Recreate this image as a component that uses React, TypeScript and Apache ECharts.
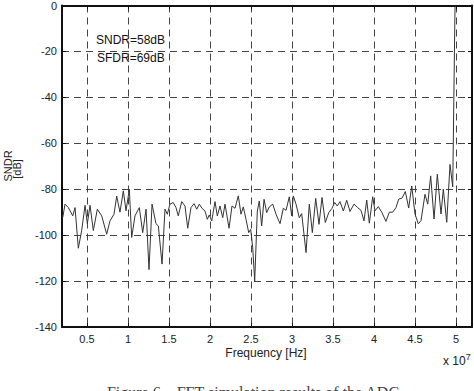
import React, { useEffect, useRef } from "react";
import * as echarts from "echarts";

// Frequency in units of 1e7 Hz, SNDR in dB
const freq: number[] = [
  0.204, 0.232, 0.272, 0.326, 0.354, 0.394, 0.435, 0.476, 0.504, 0.537,
  0.577, 0.626, 0.679, 0.74, 0.78, 0.829, 0.862, 0.902, 0.943, 0.976,
  1.016, 1.045, 1.085, 1.138, 1.179, 1.22, 1.256, 1.293, 1.341, 1.37,
  1.415, 1.451, 1.479, 1.512, 1.552, 1.585, 1.613, 1.655, 1.695, 1.728,
  1.768, 1.805, 1.838, 1.87, 1.902, 1.939, 1.967, 1.991, 2.021, 2.061,
  2.089, 2.122, 2.155, 2.183, 2.232, 2.268, 2.305, 2.345, 2.378, 2.406,
  2.439, 2.472, 2.496, 2.521, 2.545, 2.577, 2.601, 2.63, 2.659, 2.691,
  2.723, 2.765, 2.805, 2.854, 2.894, 2.927, 2.967, 2.996, 3.016, 3.049,
  3.089, 3.118, 3.171, 3.211, 3.248, 3.289, 3.329, 3.366, 3.406, 3.448,
  3.488, 3.521, 3.552, 3.585, 3.626, 3.667, 3.707, 3.756, 3.801, 3.841,
  3.878, 3.911, 3.943, 3.984, 4.012, 4.052, 4.094, 4.146, 4.187, 4.228,
  4.268, 4.301, 4.341, 4.382, 4.423, 4.46, 4.5, 4.54, 4.573, 4.622,
  4.655, 4.691, 4.732, 4.772, 4.817, 4.845, 4.887, 4.927, 4.96, 4.988,
];

const sndr: number[] = [
  -92.3, -86.5, -88, -91.6, -88, -105.7, -98, -87, -95, -87,
  -98, -88.7, -91.6, -99.6, -93.8, -90.9, -83, -90, -80.7, -89.4,
  -80, -101, -91.6, -88, -98.9, -88.7, -115, -86.5, -95, -96,
  -112.6, -88.7, -90.9, -86.5, -85.8, -88, -91.6, -85.4, -87.3, -97,
  -88, -86.3, -88.7, -86.5, -88.3, -89.5, -93.1, -91.2, -93.8, -85.4,
  -91.6, -87.3, -92.4, -86.5, -97, -87.3, -88.3, -82.9, -90.9, -87.7,
  -93.1, -98.9, -97.5, -105.5, -120, -89.5, -85.1, -96, -84.4, -90.2,
  -87.7, -86.5, -90.9, -95, -88.3, -89.2, -83.3, -91.6, -82.9, -86.5,
  -92.4, -90.6, -107.6, -86.5, -98.9, -84, -95.3, -83.6, -94.5, -90.2,
  -88.3, -85.8, -87.3, -85.4, -89.5, -84.8, -89.7, -86.5, -88, -89.2,
  -93.8, -84.7, -94.8, -83.3, -89.4, -87.6, -90, -94, -90, -90,
  -88, -84.3, -83.9, -81, -88.2, -78.6, -90.8, -95.1, -93.7, -82.2,
  -86.5, -74.2, -93, -73.5, -90.8, -80, -94.4, -69.2, -79, 0,
];

const xTicks: number[] = [0.5, 1, 1.5, 2, 2.5, 3, 3.5, 4, 4.5, 5];

const FONT = "'Liberation Sans', Arial, sans-serif";

export default function App() {
  const ref = useRef<HTMLDivElement>(null);

  useEffect(() => {
    if (!ref.current) return;
    const chart = echarts.init(ref.current, null, { renderer: "svg" });
    const dash = { color: "#444", width: 1, type: [7, 5] as number[] };
    const xCommon = {
      type: "value" as const,
      min: 0.195,
      max: 5.195,
      axisLine: { show: true, onZero: false, lineStyle: { color: "#111", width: 2 } },
      axisTick: {
        show: true,
        inside: true,
        length: 4,
        customValues: xTicks,
        lineStyle: { color: "#111", width: 1 },
      },
    };
    const yCommon = {
      type: "value" as const,
      min: -140,
      max: 0,
      interval: 20,
      axisLine: { show: true, onZero: false, lineStyle: { color: "#111", width: 2 } },
      axisTick: { show: true, inside: true, length: 4, lineStyle: { color: "#111", width: 1 } },
    };
    chart.setOption({
      animation: false,
      grid: { left: 62, right: 2, top: 4, bottom: 64 },
      xAxis: [
        {
          ...xCommon,
          position: "bottom",
          axisLabel: {
            show: true,
            customValues: xTicks,
            color: "#222",
            fontSize: 11,
            fontFamily: FONT,
            margin: 6,
          },
          splitLine: { show: true, lineStyle: dash },
        },
        {
          ...xCommon,
          position: "top",
          axisLabel: { show: false },
          splitLine: { show: false },
        },
      ],
      yAxis: [
        {
          ...yCommon,
          position: "left",
          axisLabel: { color: "#222", fontSize: 11, fontFamily: FONT, margin: 5 },
          splitLine: { show: true, lineStyle: dash },
        },
        {
          ...yCommon,
          position: "right",
          axisLabel: { show: false },
          splitLine: { show: false },
        },
      ],
      series: [
        {
          type: "line",
          xAxisIndex: 0,
          yAxisIndex: 0,
          data: freq.map((f, i) => [f, sndr[i]]),
          symbol: "none",
          lineStyle: { color: "#333", width: 1 },
          z: 5,
        },
      ],
      graphic: [
        {
          type: "text",
          left: 96,
          top: 34,
          style: { text: "SNDR=58dB", font: `12px ${FONT}`, fill: "#111" },
        },
        {
          type: "text",
          left: 97,
          top: 52,
          style: { text: "SFDR=69dB", font: `12px ${FONT}`, fill: "#111" },
        },
        {
          type: "text",
          x: 266,
          y: 353,
          style: {
            text: "Frequency [Hz]",
            font: `12px ${FONT}`,
            fill: "#222",
            align: "center",
            verticalAlign: "middle",
          },
        },
        {
          type: "text",
          x: 443,
          y: 361,
          style: {
            text: "x 10{s|7}",
            font: `12px ${FONT}`,
            fill: "#222",
            verticalAlign: "middle",
            rich: { s: { fontSize: 9, fontFamily: FONT, padding: [0, 0, 9, 0] } },
          },
        },
        {
          type: "text",
          x: 8,
          y: 166,
          rotation: Math.PI / 2,
          style: {
            text: "SNDR",
            font: `11px ${FONT}`,
            fill: "#222",
            align: "center",
            verticalAlign: "middle",
          },
        },
        {
          type: "text",
          x: 17,
          y: 169,
          rotation: Math.PI / 2,
          style: {
            text: "[dB]",
            font: `11px ${FONT}`,
            fill: "#222",
            align: "center",
            verticalAlign: "middle",
          },
        },
        {
          type: "text",
          x: 255,
          y: 384,
          style: {
            text: "Figure 6.   FFT simulation results of the ADC.",
            font: `16px 'Liberation Serif', 'Times New Roman', serif`,
            fill: "#444",
            align: "center",
            verticalAlign: "top",
          },
        },
      ],
    });
    return () => chart.dispose();
  }, []);

  return (
    <div
      ref={ref}
      style={{ width: 474, height: 391, position: "absolute", left: 0, top: 0 }}
    />
  );
}
